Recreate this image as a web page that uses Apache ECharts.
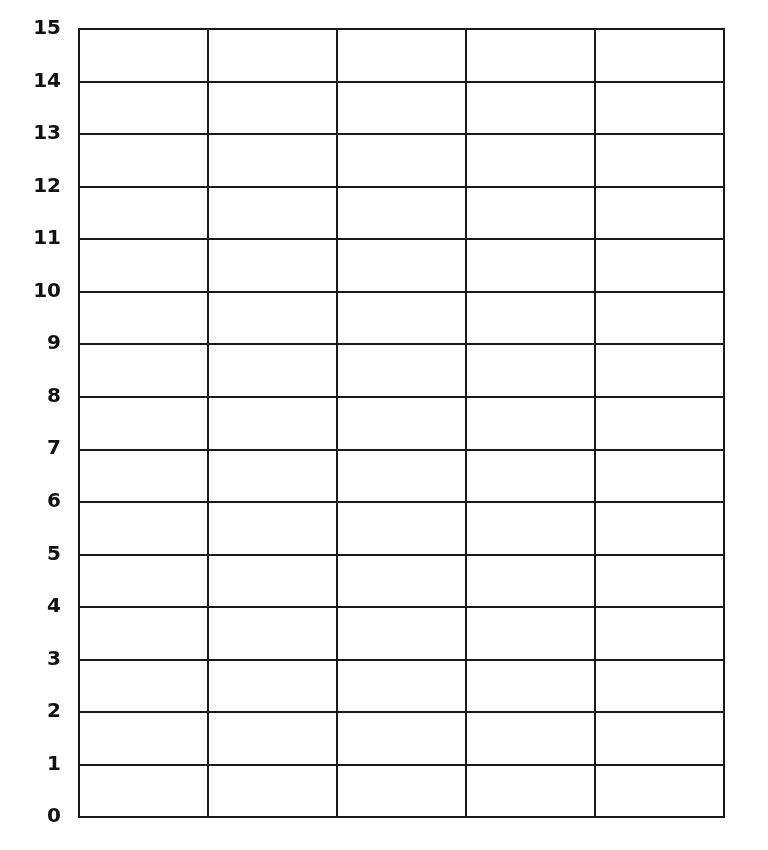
<!DOCTYPE html>
<html><head><meta charset="utf-8">
<script src="https://cdn.jsdelivr.net/npm/echarts@6/dist/echarts.min.js"></script>
<style>html,body{margin:0;padding:0;background:#fff}#c{width:768px;height:850px}</style>
</head><body><div id="c"></div>
<script>
var categories = ['1', '2', '3', '4', '5'];
var seriesValues = [null, null, null, null, null];
var yMin = 0, yMax = 15, yStep = 1;

var chart = echarts.init(document.getElementById('c'));
var lineStyle = { color: '#1a1a1a', width: 2 };
chart.setOption({
  animation: false,
  grid: { left: 79, right: 44, top: 29, bottom: 33, containLabel: false,
          show: true, borderColor: '#1a1a1a', borderWidth: 2 },
  xAxis: {
    type: 'category', data: categories, boundaryGap: true,
    axisLine: { show: true, lineStyle: lineStyle },
    axisTick: { show: false },
    axisLabel: { show: false },
    splitLine: { show: true, interval: 0, lineStyle: lineStyle }
  },
  yAxis: {
    type: 'value', min: yMin, max: yMax, interval: yStep,
    axisLine: { show: true, lineStyle: lineStyle },
    axisTick: { show: false },
    axisLabel: { color: '#111', fontSize: 20, fontFamily: 'DejaVu Sans', fontWeight: 'bold', margin: 18 },
    splitLine: { show: true, lineStyle: lineStyle }
  },
  series: [{ type: 'bar', data: seriesValues }]
});
</script></body></html>
